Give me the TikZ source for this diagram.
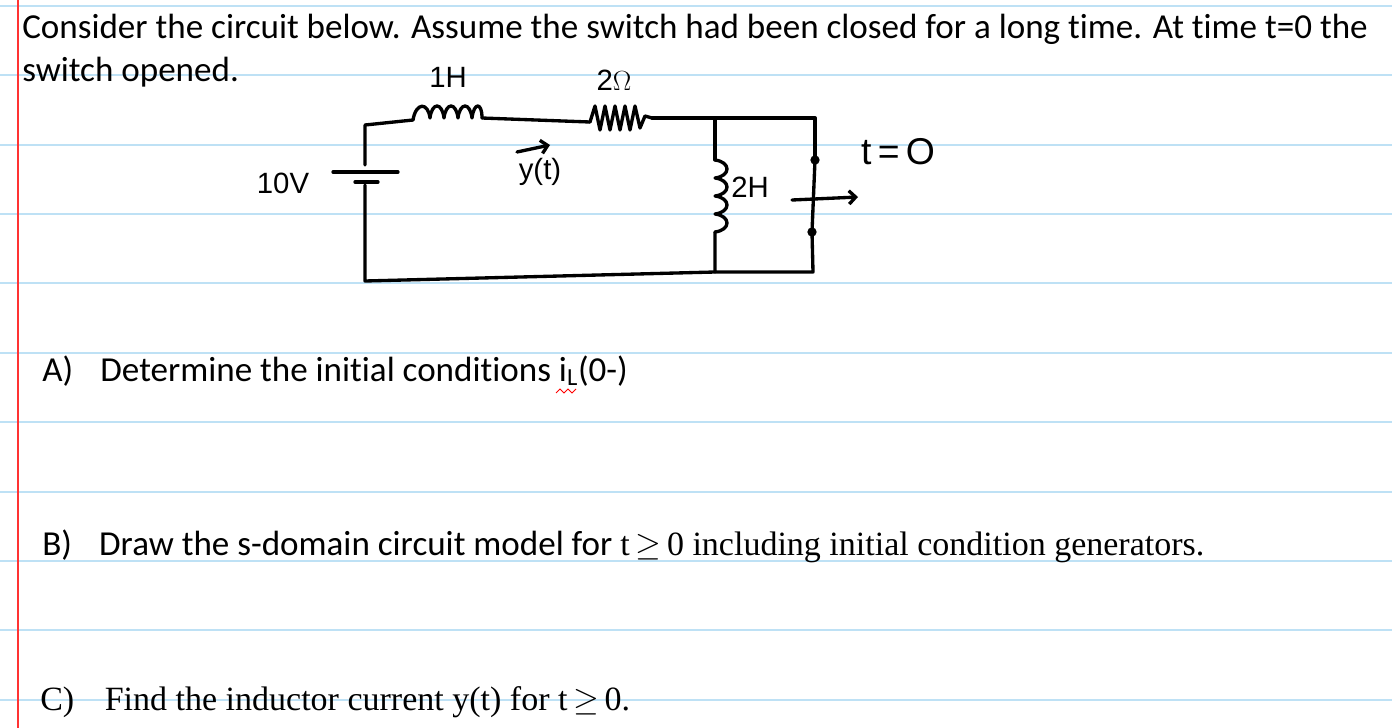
\documentclass[tikz,border=0pt]{standalone}
\usepackage{fontspec}
\setmainfont{Carlito}[Ligatures=NoCommon]
\newfontfamily\tnr{Liberation Serif}
\newfontfamily\hand{Liberation Sans}
\usetikzlibrary{decorations.pathmorphing,arrows.meta}
\definecolor{rulec}{RGB}{190,225,245}
\begin{document}
\begin{tikzpicture}[x=0.75pt,y=-0.75pt,
  rule/.style={draw=rulec,line width=0.9pt},
  wire/.style={line width=2.5pt,line cap=round,line join=round},
  txt/.style={anchor=base west,inner sep=0pt,font=\fontsize{26.3}{30}\selectfont},
  hw/.style={font=\hand\fontsize{22}{24}\selectfont,inner sep=0pt}]
\useasboundingbox[fill=white] (0,0) rectangle (1392,728);
\foreach \y in {6,75,145,214,283,353,422,492,561,630,700}
  \draw[rule] (0,\y) -- (1392,\y);
\draw[red!80,line width=1pt] (18,0) -- (18,728);
% texts
\node[txt] (t1) at (22,38) {Consider the circuit below. Assume the switch had been closed for a long time. At time t=0 the};
\node[txt] (t2) at (22,81) {switch opened.};
\node[txt] (ta) at (42,381) {A)\hspace{0.55em} Determine the initial conditions i\textsubscript{L}(0-)};
\draw[red,line width=0.7pt] (556,393) -- (560,389) -- (564,393) -- (568,389) -- (572,393) -- (576,389);
\node[txt] (tb) at (42,555) {B)\hspace{0.55em} Draw the s-domain circuit model for {\tnr\fontsize{25.5}{28}\selectfont t\,$\geq$\,0 including initial condition generators.}};
\node[txt,font=\tnr\fontsize{25.5}{28}\selectfont] (tc) at (40,710) {C)\hspace{0.9em}Find the inductor current y(t) for t\,$\geq$\,0.};
% circuit coordinates
\coordinate (tl) at (365,125);
\coordinate (l1a) at (413,120);
\coordinate (l1b) at (482,118);
\coordinate (r1a) at (590,122);
\coordinate (r1b) at (652,118);
\coordinate (jt) at (715,118);
\coordinate (tr) at (815,118);
\coordinate (swa) at (815,160);
\coordinate (swb) at (812,232);
\coordinate (br) at (813,272);
\coordinate (jb) at (715,272);
\coordinate (bl) at (365,281);
\coordinate (l2a) at (715,160);
\coordinate (l2b) at (715,232);
\coordinate (bt) at (365,165);
\coordinate (bb) at (365,185);
\draw[wire] (bt) -- (tl) -- (l1a);
\draw[wire] (l1a) .. controls (416,102) and (428,102) .. (430,118)
  .. controls (432,102) and (442,102) .. (444,118)
  .. controls (446,102) and (456,102) .. (458,118)
  .. controls (460,102) and (470,102) .. (472,118)
  .. controls (474,102) and (482,102) .. (l1b);
\draw[wire] (l1b) -- (r1a);
\draw[wire] (r1a) -- (595,106) -- (600,130) -- (605,106) -- (610,130) -- (615,106) -- (620,130) -- (625,106) -- (630,130) -- (635,106) -- (640,128) -- (645,116) -- (r1b);
\draw[wire] (r1b) -- (jt) -- (tr) -- (swa);
\draw[wire] (jt) -- (l2a);
\draw[wire] (l2a) .. controls (731,162) and (731,176) .. (715,178)
  .. controls (731,180) and (731,194) .. (715,196)
  .. controls (731,198) and (731,212) .. (715,214)
  .. controls (731,216) and (731,230) .. (l2b);
\draw[wire] (l2b) -- (jb) -- (br) -- (swb);
\draw[wire] (jb) -- (bl) -- (bb);
\draw[wire] (333,172) -- (398,172);
\draw[wire] (355,182) -- (378,182);
\fill (swa) circle (3.5pt);
\fill (swb) circle (3.5pt);
\draw[wire] (swa) -- (swb);
\draw[wire,-{Straight Barb[length=5pt]}] (792,200) -- (858,197);
\draw[wire,-{Straight Barb[length=5pt]}] (517,152) -- (550,145);
% handwritten labels
\node[hw] (v) at (283,183) {10V};
\node[hw] (h1) at (448,77) {1H};
\node[hw] (r) at (614,80) {2$\Omega$};
\node[hw] (y) at (540,172) {y(t)};
\node[hw] (h2) at (750,187) {2H};
\node[hw,font=\hand\fontsize{28}{30}\selectfont] (t0) at (898,152) {t\,=\,O};
\end{tikzpicture}
\end{document}
